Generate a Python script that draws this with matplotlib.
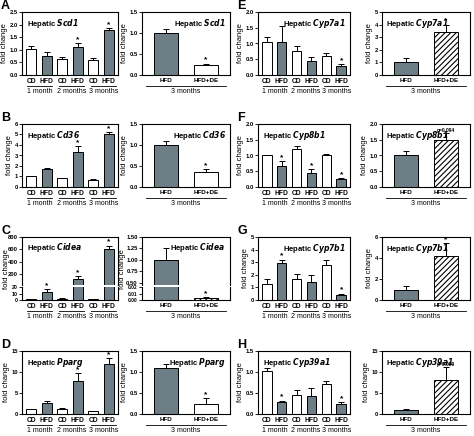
import numpy as np
import matplotlib.pyplot as plt

W, H = 474, 436
GRAY = '#6d7e86'

months = ['1 month', '2 months', '3 months']
cats6 = ['CD', 'HFD', 'CD', 'HFD', 'CD', 'HFD']
cats2 = ['HFD', 'HFD+DE']

scd1_time = [1.05, 0.75, 0.62, 1.13, 0.60, 1.80]
scd1_time_err = [0.10, 0.15, 0.10, 0.15, 0.08, 0.05]
scd1_de = [1.0, 0.23]
scd1_de_err = [0.10, 0.04]

cd36_time = [1.0, 1.7, 0.85, 3.3, 0.7, 5.0]
cd36_time_err = [0.05, 0.12, 0.05, 0.6, 0.05, 0.2]
cd36_de = [1.0, 0.35]
cd36_de_err = [0.10, 0.08]

cidea_time = [1.0, 12.0, 2.0, 120.0, 1.5, 610.0]
cidea_time_err = [0.3, 5.0, 1.0, 50.0, 0.5, 50.0]
cidea_de = [1.0, 0.003]
cidea_de_err = [0.25, 0.002]

pparg_time = [1.2, 2.7, 1.2, 7.8, 0.6, 12.0]
pparg_time_err = [0.1, 0.3, 0.15, 2.0, 0.1, 1.3]
pparg_de = [1.1, 0.25]
pparg_de_err = [0.1, 0.12]

cyp7a1_time = [1.05, 1.05, 0.75, 0.45, 0.60, 0.30]
cyp7a1_time_err = [0.15, 0.5, 0.18, 0.12, 0.10, 0.05]
cyp7a1_de = [1.0, 3.4]
cyp7a1_de_err = [0.35, 0.6]

cyp8b1_time = [1.0, 0.68, 1.2, 0.45, 1.0, 0.24]
cyp8b1_time_err = [0.02, 0.15, 0.1, 0.12, 0.06, 0.03]
cyp8b1_de = [1.0, 1.5]
cyp8b1_de_err = [0.15, 0.2]

cyp7b1_time = [1.3, 2.95, 1.65, 1.45, 2.75, 0.4]
cyp7b1_time_err = [0.35, 0.25, 0.45, 0.5, 0.4, 0.1]
cyp7b1_de = [1.0, 4.2]
cyp7b1_de_err = [0.3, 1.2]

cyp39a1_time = [1.02, 0.28, 0.46, 0.43, 0.71, 0.25]
cyp39a1_time_err = [0.08, 0.04, 0.12, 0.18, 0.07, 0.04]
cyp39a1_de = [1.0, 8.2]
cyp39a1_de_err = [0.1, 3.0]

fig = plt.figure(figsize=(W / 100, H / 100), dpi=100)
plt.rcParams['font.family'] = 'Liberation Sans'
plt.rcParams['font.size'] = 5
plt.rcParams['hatch.linewidth'] = 0.8


def add_ax(x, y, w, h):
    ax = fig.add_axes([x / W, 1 - (y + h) / H, w / W, h / H])
    ax.hpx = h
    return ax


def style(ax):
    ax.tick_params(length=2, width=0.6, labelsize=4.2, pad=1)
    ax.tick_params(axis='x', length=0, pad=2)
    for s in ax.spines.values():
        s.set_linewidth(0.8)
    for lab in ax.get_yticklabels():
        lab.set_fontweight('bold')


def bars(ax, vals, errs, hatch_last=False, six=True):
    x = np.arange(len(vals))
    if six:
        colors = ['white', GRAY] * 3
        hatches = [None] * 6
    else:
        colors = [GRAY, 'white']
        hatches = [None, '//////'] if hatch_last else [None, None]
    for xi, v, e, c, hh in zip(x, vals, errs, colors, hatches):
        ax.bar(xi, v, width=0.62, color=c, edgecolor='black', linewidth=0.7, hatch=hh)
        ax.errorbar(xi, v, yerr=[[0], [e]], color='black', capsize=2, lw=0.7, capthick=0.7)
    ax.set_xlim(-0.6, len(vals) - 0.4)


def stars(ax, vals, errs, idx, labels=None):
    for k, i in enumerate(idx):
        lab = '*' if labels is None else labels[k]
        ax.text(i, vals[i] + errs[i], lab, ha='center', va='bottom',
                fontsize=6 if lab == '*' else 3.5, fontweight='bold')


def under6(ax):
    ax.set_xticks(range(6))
    ax.set_xticklabels(cats6, fontweight='bold', fontsize=4.8)
    yl_ = -11.0 / ax.hpx
    yt_ = -13.0 / ax.hpx
    for m in range(3):
        x0 = (2 * m - 0.3 + 0.6) / 6.0
        x1 = (2 * m + 1.3 + 0.6) / 6.0
        ax.plot([x0, x1], [yl_, yl_], transform=ax.transAxes, color='black', lw=0.6, clip_on=False)
        ax.text((x0 + x1) / 2, yt_, months[m], transform=ax.transAxes, ha='center', va='top', fontsize=5)


def under2(ax):
    ax.set_xticks(range(2))
    ax.set_xticklabels(cats2, fontweight='bold', fontsize=4.5)
    yl_ = -11.0 / ax.hpx
    yt_ = -13.0 / ax.hpx
    ax.plot([0.05, 0.95], [yl_, yl_], transform=ax.transAxes, color='black', lw=0.6, clip_on=False)
    ax.text(0.5, yt_, '3 months', transform=ax.transAxes, ha='center', va='top', fontsize=5)


def title(ax, gene, loc):
    x, ha = (0.05, 'left') if loc == 'left' else (0.95, 'right')
    ax.text(x, 0.92, 'Hepatic $\\mathbfit{' + gene + '}$', transform=ax.transAxes, ha=ha, va='top',
            fontsize=5.5, fontweight='bold')


def yl(ax):
    ax.set_ylabel('fold change', fontsize=5.5, labelpad=1)


tops = [12, 124, 237, 351]
hgt = 63
cols = [(22, 96, 142, 88), (258, 92, 382, 88)]

panels = [
    ('A', 'Scd1', scd1_time, scd1_time_err, scd1_de, scd1_de_err, (2.5, 0.5), (1.5, 0.5), [3, 5], [1], None, 'left', 'right', False),
    ('B', 'Cd36', cd36_time, cd36_time_err, cd36_de, cd36_de_err, (6, 1), (1.5, 0.5), [3, 5], [1], None, 'left', 'right', False),
    ('C', 'Cidea', None, None, None, None, None, None, None, None, None, None, None, False),
    ('D', 'Pparg', pparg_time, pparg_time_err, pparg_de, pparg_de_err, (15, 5), (1.5, 0.5), [3, 5], [1], None, 'left', 'right', False),
    ('E', 'Cyp7a1', cyp7a1_time, cyp7a1_time_err, cyp7a1_de, cyp7a1_de_err, (2.0, 0.5), (5, 1), [5], [1], None, 'right', 'left', True),
    ('F', 'Cyp8b1', cyp8b1_time, cyp8b1_time_err, cyp8b1_de, cyp8b1_de_err, (2.0, 0.5), (2.0, 0.5), [1, 3, 5], [1], ['p=0.094'], 'left', 'left', True),
    ('G', 'Cyp7b1', cyp7b1_time, cyp7b1_time_err, cyp7b1_de, cyp7b1_de_err, (5, 1), (6, 2), [1, 5], [1], None, 'right', 'left', True),
    ('H', 'Cyp39a1', cyp39a1_time, cyp39a1_time_err, cyp39a1_de, cyp39a1_de_err, (1.5, 0.5), (15, 5), [1, 5], [1], ['p=0.059'], 'left', 'left', True),
]

for n, p in enumerate(panels):
    letter, gene, tv, te, dv, de, ylt, yld, st6, st2, plab, loc6, loc2, hatch = p
    col = cols[n // 4]
    top = tops[n % 4]
    fig.text((col[0] - 21) / W, 1 - (top - 12) / H, letter, fontsize=9, fontweight='bold', va='top')
    if gene == 'Cidea':
        hu, hl = 48, 13
        au = add_ax(col[0], top, col[1], hu)
        al = add_ax(col[0], top + hu + 2, col[1], hl)
        for a in (au, al):
            bars(a, cidea_time, cidea_time_err)
        au.set_ylim(30, 800)
        au.set_yticks([200, 400, 600, 800])
        al.set_ylim(0, 20)
        al.set_yticks([0, 10, 20])
        au.spines['bottom'].set_visible(False)
        al.spines['top'].set_visible(False)
        au.set_xticks([])
        style(au)
        style(al)
        al.tick_params(axis='y', labelsize=3.8)
        stars(au, cidea_time, cidea_time_err, [3, 5])
        stars(al, cidea_time, cidea_time_err, [1])
        title(au, gene, 'left')
        under6(al)
        fig.text((col[0] - 15) / W, 1 - (top + 32) / H, 'fold change', rotation=90,
                 fontsize=5.5, ha='center', va='center')
        bu = add_ax(col[2], top, col[3], hu)
        bl = add_ax(col[2], top + hu + 2, col[3], hl)
        for b in (bu, bl):
            bars(b, cidea_de, cidea_de_err, hatch_last=True, six=False)
        bu.set_ylim(0.45, 1.5)
        bu.set_yticks([0.5, 0.75, 1.0, 1.25, 1.5])
        bu.set_yticklabels(['0.50', '0.75', '1.00', '1.25', '1.50'])
        bl.set_ylim(0, 0.02)
        bl.set_yticks([0, 0.01, 0.02])
        bl.set_yticklabels(['0.00', '0.01', '0.02'])
        bu.spines['bottom'].set_visible(False)
        bl.spines['top'].set_visible(False)
        bu.set_xticks([])
        style(bu)
        style(bl)
        bl.tick_params(axis='y', labelsize=3.5)
        stars(bl, cidea_de, cidea_de_err, [1])
        title(bu, gene, 'right')
        under2(bl)
        fig.text((col[2] - 19) / W, 1 - (top + 32) / H, 'fold change', rotation=90,
                 fontsize=5.5, ha='center', va='center')
        continue
    a = add_ax(col[0], top, col[1], hgt)
    bars(a, tv, te)
    a.set_ylim(0, ylt[0])
    a.set_yticks(np.arange(0, ylt[0] + 1e-9, ylt[1]))
    if ylt[1] < 1:
        a.set_yticklabels(['%.1f' % t for t in a.get_yticks()])
    style(a)
    yl(a)
    stars(a, tv, te, st6)
    title(a, gene, loc6)
    under6(a)
    b = add_ax(col[2], top, col[3], hgt)
    bars(b, dv, de, hatch_last=hatch, six=False)
    b.set_ylim(0, yld[0])
    b.set_yticks(np.arange(0, yld[0] + 1e-9, yld[1]))
    if yld[1] < 1:
        b.set_yticklabels(['%.1f' % t for t in b.get_yticks()])
    style(b)
    yl(b)
    stars(b, dv, de, st2, plab)
    title(b, gene, loc2)
    under2(b)

fig.savefig('out.png', dpi=100)
